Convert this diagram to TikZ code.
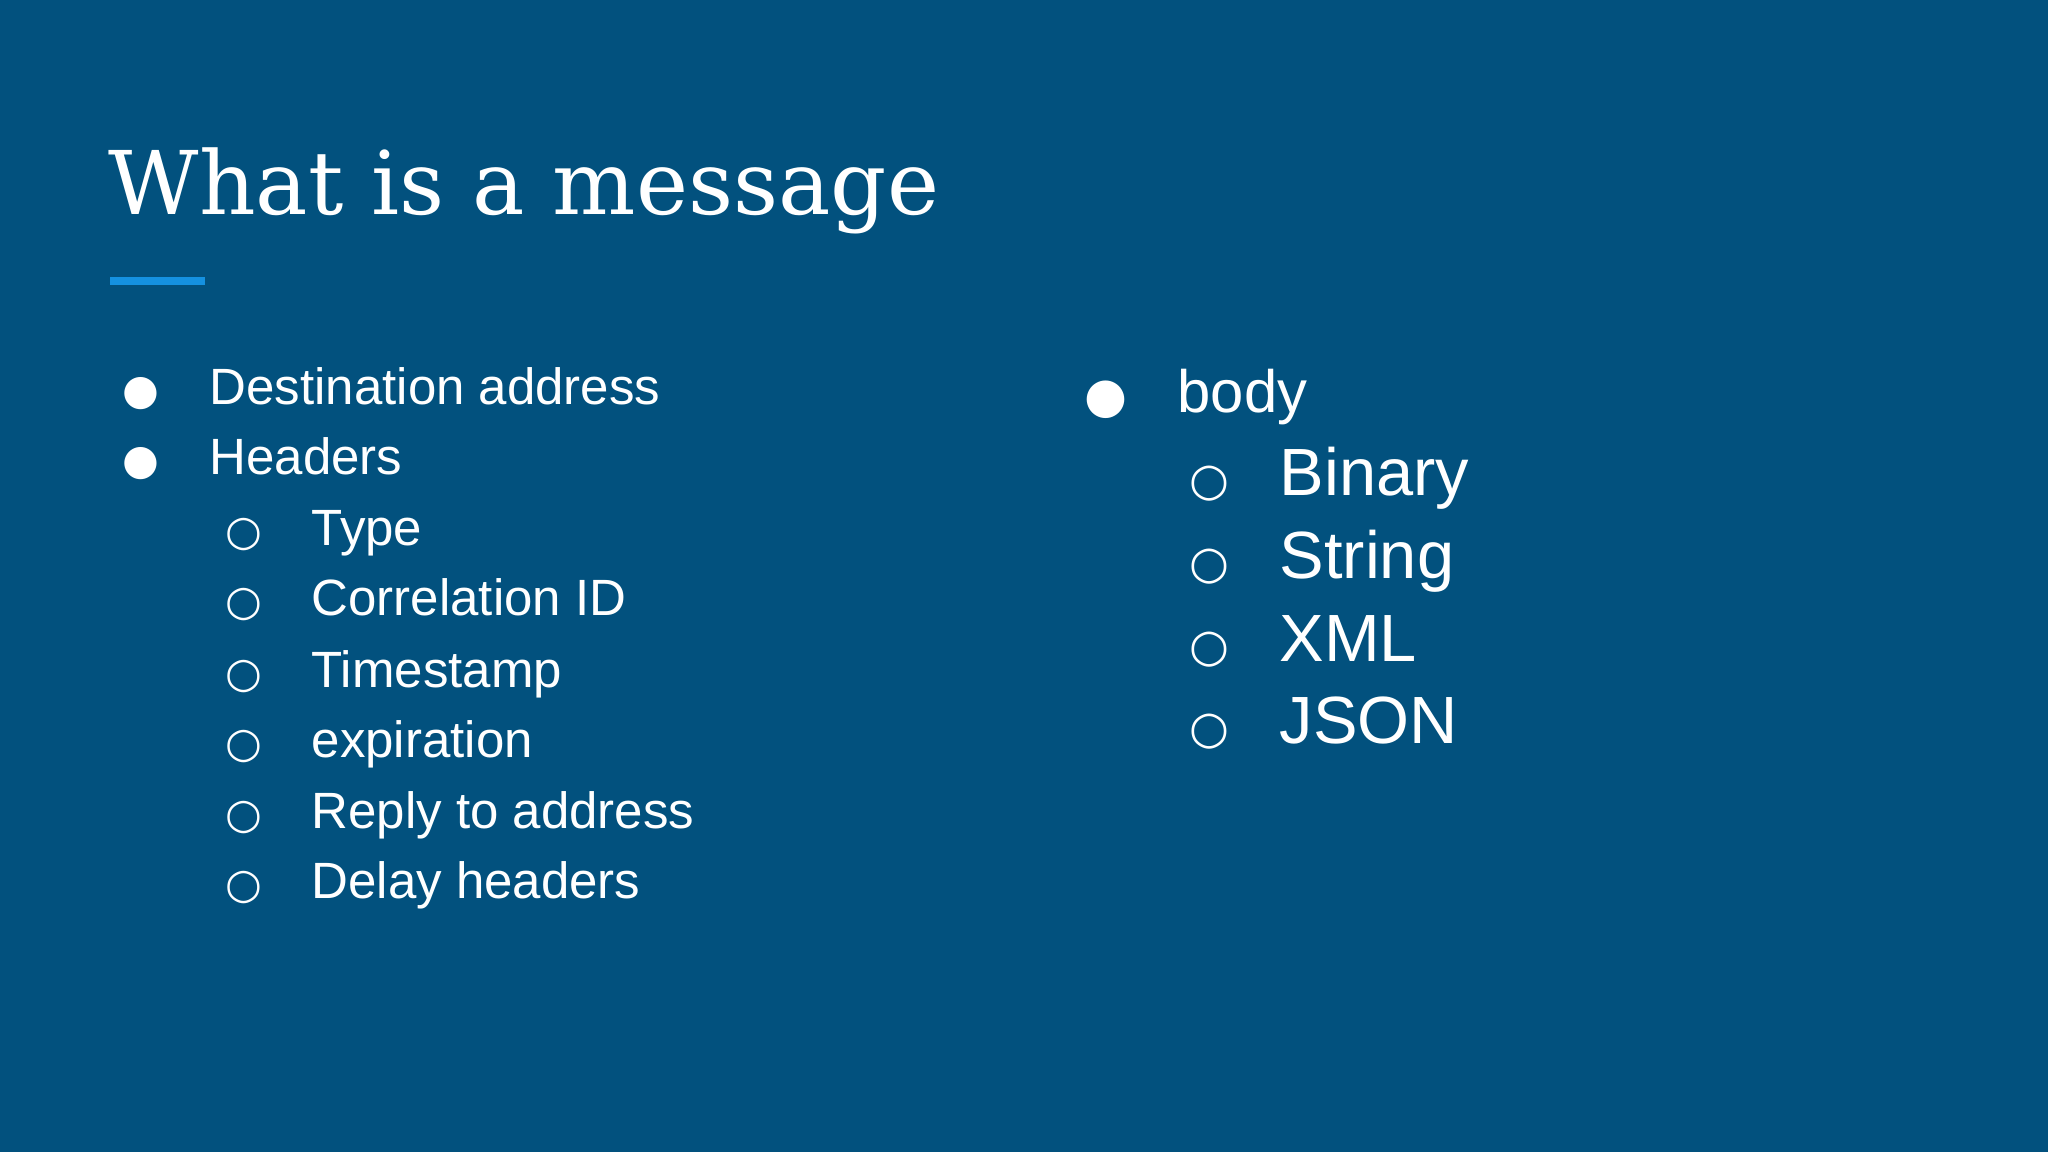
\documentclass[tikz,border=0pt]{standalone}
\usepackage{fontspec}
\setmainfont{Liberation Sans}
\newfontfamily\titlefont{DejaVu Serif}
\newfontfamily\symfont{DejaVu Sans}
\definecolor{bg}{HTML}{02517E}
\definecolor{accent}{HTML}{1591E0}
\begin{document}
\begin{tikzpicture}[x=0.01cm,y=-0.01cm,
  txt/.style={anchor=base west,inner sep=0,text=white,font=\fontsize{14.5}{16}\selectfont},
  big/.style={anchor=base west,inner sep=0,text=white,font=\fontsize{19}{22}\selectfont},
  blt/.style={anchor=base,inner sep=0,text=white,font=\symfont\fontsize{12}{14}\selectfont}]
\fill[bg] (0,0) rectangle (2048,1152);
\useasboundingbox (0,0) rectangle (2048,1152);
\node[anchor=base west,inner sep=0,text=white,font=\titlefont\fontsize{25}{30}\selectfont] (title) at (108,215) {What is a message};
\fill[accent] (110,277) rectangle (205,285);
\node[blt] (b1) at (141,405) {●}; \node[txt] (t1) at (209,405) {Destination address};
\node[blt] (b2) at (141,475) {●}; \node[txt] (t2) at (209,475) {Headers};
\foreach \y/\t [count=\i] in {546/Type,616/Correlation ID,687/Timestamp,757/expiration,828/Reply to address,898/Delay headers}{
  \node[blt] (s\i) at (244,\y) {○}; \node[txt] (st\i) at (311,\y) {\t};}
\node[blt,font=\symfont\fontsize{14}{16}\selectfont] (rb) at (1106,413) {●};
\node[anchor=base west,inner sep=0,text=white,font=\fontsize{17}{20}\selectfont] (rt) at (1177,413) {body};
\foreach \y/\t [count=\i] in {496/Binary,579/String,661/XML,743/JSON}{
  \node[blt,font=\symfont\fontsize{13}{15}\selectfont] (r\i) at (1209,\y) {○}; \node[big] (rt\i) at (1279,\y) {\t};}
\end{tikzpicture}
\end{document}
